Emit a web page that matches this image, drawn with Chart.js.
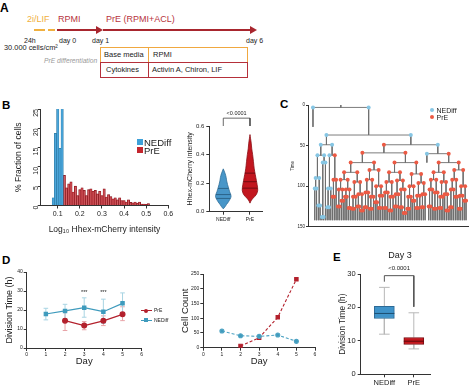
<!DOCTYPE html>
<html>
<head>
<meta charset="utf-8">
<script src="https://cdn.jsdelivr.net/npm/chart.js@4.4.1/dist/chart.umd.min.js"></script>
<style>
  html, body { margin: 0; padding: 0; background: #fff; }
  body { width: 474px; height: 390px; position: relative; overflow: hidden; font-family: Arial, 'Liberation Sans', sans-serif; color: #222; }
  .abs { position: absolute; white-space: nowrap; line-height: 1; }
  .letter { position: absolute; font-weight: bold; font-size: 11.5px; line-height: 1; color: #000; }
  .box { position: absolute; }
  .dot { position: absolute; border-radius: 50%; }
</style>
</head>
<body>

<!-- Panel A: protocol sketch -->
<div class="letter" style="left:0px;top:1.8px;font-size:12px">A</div>
<div class="abs" style="left:27px;top:15px;font-size:9px;color:#f0b040">2i/LIF</div>
<div class="abs" style="left:58px;top:15px;font-size:9px;color:#b7343d">RPMI</div>
<div class="abs" style="left:106px;top:15px;font-size:9px;color:#b7343d">PrE (RPMI+ACL)</div>
<div class="abs" style="left:34px;top:28.8px;width:11px;height:2.2px;background:#f0b040"></div>
<div class="abs" style="left:48px;top:28.8px;width:7px;height:2.2px;background:#f0b040"></div>
<div class="abs" style="left:57px;top:28.6px;width:40px;height:2.4px;background:#a8262e"></div>
<div class="abs" style="left:96px;top:25.8px;width:0;height:0;border-top:4px solid transparent;border-bottom:4px solid transparent;border-left:7px solid #a8262e"></div>
<div class="abs" style="left:103px;top:28.6px;width:148px;height:2.4px;background:#a8262e"></div>
<div class="abs" style="left:250px;top:25.8px;width:0;height:0;border-top:4px solid transparent;border-bottom:4px solid transparent;border-left:7px solid #a8262e"></div>
<div class="abs" style="left:24px;top:36.8px;font-size:7px">24h</div>
<div class="abs" style="left:59px;top:36.8px;font-size:7px">day 0</div>
<div class="abs" style="left:92px;top:36.8px;font-size:7px">day 1</div>
<div class="abs" style="left:246px;top:36.8px;font-size:7px">day 6</div>
<div class="abs" style="left:4px;top:43.5px;font-size:7.4px">30.000 cells/cm²</div>
<div class="abs" style="left:44px;top:57.5px;font-size:6.7px;font-style:italic;color:#9a9a9a">PrE differentiation</div>
<div class="box" style="left:100px;top:47px;width:146px;height:14px;border:1px solid #f0a840"></div>
<div class="box" style="left:148px;top:47px;width:1px;height:15px;background:#f0a840"></div>
<div class="box" style="left:100px;top:62px;width:146px;height:14px;border:1px solid #b5303a"></div>
<div class="box" style="left:148px;top:62px;width:1px;height:15px;background:#b5303a"></div>
<div class="abs" style="left:104px;top:50.5px;font-size:7.5px">Base media</div>
<div class="abs" style="left:153px;top:50.5px;font-size:7.5px">RPMI</div>
<div class="abs" style="left:106px;top:66px;font-size:7.5px">Cytokines</div>
<div class="abs" style="left:152px;top:66px;font-size:7.5px">Activin A, Chiron, LIF</div>

<!-- Panel letters -->
<div class="letter" style="left:2px;top:100.2px">B</div>
<div class="letter" style="left:280px;top:98.5px">C</div>
<div class="letter" style="left:2px;top:255.3px">D</div>
<div class="letter" style="left:333px;top:251.8px">E</div>

<!-- Chart canvases -->
<div class="box" style="left:0px;top:95px;width:178px;height:145px"><canvas id="histChart"></canvas></div>
<div class="box" style="left:180px;top:95px;width:92px;height:135px"><canvas id="violinChart"></canvas></div>
<div class="box" style="left:280px;top:95px;width:194px;height:140px"><canvas id="lineageChart"></canvas></div>
<div class="box" style="left:0px;top:262px;width:150px;height:112px"><canvas id="divisionChart"></canvas></div>
<div class="box" style="left:175px;top:262px;width:150px;height:112px"><canvas id="countChart"></canvas></div>
<div class="box" style="left:330px;top:245px;width:144px;height:145px"><canvas id="boxChart"></canvas></div>

<!-- Legends and titles -->
<div class="box" style="left:136.5px;top:139.3px;width:6px;height:6px;background:#3ea0d8"></div>
<div class="abs" style="left:144px;top:137.7px;font-size:9.5px">NEDiff</div>
<div class="box" style="left:136.5px;top:147.3px;width:6px;height:6px;background:#c4262e"></div>
<div class="abs" style="left:144px;top:145.7px;font-size:9.5px">PrE</div>

<div class="dot" style="left:429.5px;top:107.8px;width:4.4px;height:4.4px;background:#86c6e4"></div>
<div class="abs" style="left:436.5px;top:106.6px;font-size:7px">NEDiff</div>
<div class="dot" style="left:429.5px;top:115.1px;width:4.4px;height:4.4px;background:#ec5a44"></div>
<div class="abs" style="left:436.5px;top:113.9px;font-size:7px">PrE</div>

<div class="box" style="left:140.7px;top:310.2px;width:11px;height:1.1px;background:#b3202c"></div>
<div class="dot" style="left:143.8px;top:308.5px;width:4.5px;height:4.5px;background:#b3202c"></div>
<div class="abs" style="left:154px;top:308.3px;font-size:5px">PrE</div>
<div class="box" style="left:140.7px;top:319.8px;width:11px;height:1.1px;background:#3f9bbd"></div>
<div class="box" style="left:144px;top:318.2px;width:4px;height:4px;background:#3f9bbd"></div>
<div class="abs" style="left:154px;top:317.9px;font-size:5px">NEDiff</div>

<div class="abs" style="left:370px;top:251.1px;width:60px;text-align:center;font-size:9px">Day 3</div>

<script>
// ---------- data ----------

// B: histogram of log10 Hhex-mCherry intensity (bin centres, % of cells)
const histBinsNE = [0.08, 0.09, 0.10, 0.11, 0.12];
const histFracNE = [2.0, 18.7, 27.0, 14.8, 27.0];
const histBinsPrE = [0.13, 0.14, 0.15, 0.16, 0.17, 0.18, 0.19, 0.20, 0.21, 0.22,
  0.23, 0.24, 0.25, 0.26, 0.27, 0.28, 0.29, 0.30, 0.31, 0.32,
  0.33, 0.34, 0.35, 0.36, 0.37, 0.38, 0.39, 0.40, 0.41, 0.42,
  0.43, 0.44, 0.45, 0.46, 0.47, 0.48, 0.49, 0.50, 0.51];
const histFracPrE = [7.8, 4.6, 5.6, 6.1, 3.5, 5.0, 2.6, 4.1, 4.6, 3.9,
  2.6, 4.1, 4.3, 3.7, 3.9, 3.0, 3.7, 2.6, 4.3, 2.2,
  2.8, 2.3, 1.7, 2.0, 1.5, 2.0, 1.3, 1.3, 0.9, 1.5,
  0.8, 0.7, 0.9, 0.6, 0.9, 0.4, 0.4, 0.3, 0.5];
const histTicks = [0.1, 0.2, 0.3, 0.4, 0.5, 0.6];

// B: violin profiles (intensity levels and relative density)
const violinGroups = ['NEDiff', 'PrE'];
const violinLevelsNE = [0.02, 0.035, 0.05, 0.07, 0.09, 0.105, 0.12, 0.14, 0.165, 0.19, 0.215, 0.24, 0.265, 0.285, 0.30];
const violinDensNE = [0, 0.23, 0.41, 0.68, 0.89, 1, 0.96, 0.82, 0.68, 0.55, 0.44, 0.37, 0.25, 0.11, 0];
const violinLevelsPrE = [0.06, 0.075, 0.093, 0.12, 0.15, 0.19, 0.22, 0.26, 0.30, 0.35, 0.40, 0.44, 0.48, 0.51, 0.54];
const violinDensPrE = [0, 0.12, 0.37, 0.82, 1, 0.92, 0.82, 0.68, 0.55, 0.45, 0.34, 0.23, 0.16, 0.08, 0];
const violinQuartNE = [0.093, 0.12, 0.163];
const violinQuartPrE = [0.165, 0.21, 0.27];
const violinBracket = [0.6, 0.655, 0.6];
const violinPValue = '<0.0001';

// C: lineage tree. [end time, ...daughters, kind]; a bare number is a cell followed until that time.
const lineageTree = [3,
  27,
  [37,
    [49,
      [62,
        [90, [103, 142, 142], [124, 142, 142]],
        [71, [138, 142, 142], 142]
      ],
      [62,
        [103, [126, 142, 142], 142],
        [92, [113, 142, 142], 142, 'P']
      ]
    ],
    [49,
      [59,
        [71,
          [83,
            [92, [104, [125, 142, 142], [118, 142, 142]], [104, [113, 142, 142], [127, 142, 142]]],
            [95, [113, [128, 142, 142], 142], [110, [125, 142, 142], [130, 142, 142]]]
          ],
          [80,
            [92, [108, [126, 142, 142], 142], [113, [128, 142, 142], 142]],
            [100, [120, 142, 142], [112, [127, 142, 142], 142]]
          ]
        ],
        [71,
          [83,
            [95, [108, [127, 142, 142], 142], [113, [130, 142, 142], 142]],
            [93, [110, [125, 142, 142], 142], [104, [126, 142, 142], [133, 142, 142]]]
          ],
          [85,
            [100, [113, [128, 142, 142], 142], [118, 142, 142]],
            [96, [112, [127, 142, 142], 142], [110, [126, 142, 142], 142]]
          ]
        ],
        'P'
      ],
      [60,
        71,
        [71,
          [83, [92, [104, [125, 142, 142], 142], [108, [128, 142, 142], 142]], [95, [113, [127, 142, 142], 142], [110, 142, [130, 142, 142]]]],
          [80, [92, [104, [126, 142, 142], 142], [113, 142, 142]], [100, [112, [128, 142, 142], 142], [118, 142, 142]]],
          'P'
        ]
      ]
    ]
  ],
  'N'
];

// D: division time per day (mean and error range, h)
const daysNE = [1, 2, 3, 4, 5];
const divMeanNE = [17.9, 19.5, 21.2, 19.1, 23.5];
const divLowNE = [14.8, 15.3, 16.2, 13.0, 18.3];
const divHighNE = [20.9, 23.0, 26.4, 25.7, 29.0];
const daysPrE = [2, 3, 4, 5];
const divMeanPrE = [14.4, 11.8, 14.3, 17.7];
const divLowPrE = [9.2, 9.6, 11.8, 14.4];
const divHighPrE = [19.1, 13.9, 16.9, 21.7];
const starDays = [3, 4];
const starLevel = 29.3;

// D: cell counts per day
const countNE = [56.6, 40.7, 38.5, 43.0, 21.5];
const countPrE = [5.7, 34.0, 103.0, 232.0];

// E: day 3 division time box plot
const boxGroups = ['NEDiff', 'PrE'];
const boxMin = [12.0, 7.6];
const boxQ1 = [16.7, 8.9];
const boxMedian = [18.2, 9.9];
const boxQ3 = [20.3, 11.0];
const boxMax = [26.0, 18.4];
const boxBracket = [27.7, 29.5, 20.2];
const boxPValue = '<0.0001';

// ---------- setup ----------

Chart.defaults.font.family = "Arial, 'Liberation Sans', sans-serif";
Chart.defaults.color = '#222';
Chart.defaults.animation = false;
Chart.defaults.responsive = true;
Chart.defaults.maintainAspectRatio = false;
Chart.defaults.plugins.legend.display = false;
Chart.defaults.plugins.tooltip.enabled = false;

// text placed at data coordinates (p-values, stars)
const textMarks = {
  id: 'textMarks',
  afterDatasetsDraw(chart, args, opts) {
    if (!opts.items) return;
    const { ctx, scales } = chart;
    ctx.save();
    ctx.font = opts.size + "px Arial, 'Liberation Sans', sans-serif";
    ctx.fillStyle = opts.color || '#222';
    ctx.textAlign = 'center';
    ctx.textBaseline = 'middle';
    opts.items.forEach(it => {
      ctx.fillText(it.text, scales.x.getPixelForValue(it.x), scales.y.getPixelForValue(it.y));
    });
    ctx.restore();
  },
};
Chart.register(textMarks);

function makeAxis(o) {
  const axis = {
    type: 'linear',
    min: o.min,
    max: o.max,
    reverse: !!o.reverse,
    offset: false,
    grid: { drawOnChartArea: false, offset: false, tickLength: o.tick ?? 3, color: '#333', drawTicks: o.showTicks !== false },
    border: { color: '#333', width: 1 },
    ticks: {
      font: { size: o.size },
      color: '#222',
      padding: o.pad ?? 1,
      minRotation: o.rot || 0,
      maxRotation: o.rot || 0,
      display: o.showTicks !== false,
    },
    title: {
      display: !!o.title,
      text: o.title || '',
      font: { size: o.titleSize },
      color: '#222',
      padding: { top: o.titlePad || 0, bottom: o.titlePad || 0 },
    },
    afterFit: s => {
      if (o.width) s.width = o.width;
      if (o.height) s.height = o.height;
    },
  };
  if (o.step) axis.ticks.stepSize = o.step;
  if (o.label) axis.ticks.callback = o.label;
  if (o.ticksAt) axis.afterBuildTicks = s => { s.ticks = o.ticksAt.map(v => ({ value: v })); };
  return axis;
}

const xy = (xs, ys) => xs.map((x, i) => ({ x, y: ys[i] }));
const GAP = { x: null, y: null };

function errorSegments(xs, lo, hi, cap) {
  const pts = [];
  xs.forEach((d, i) => {
    pts.push({ x: d, y: lo[i] }, { x: d, y: hi[i] }, GAP,
      { x: d - cap, y: hi[i] }, { x: d + cap, y: hi[i] }, GAP,
      { x: d - cap, y: lo[i] }, { x: d + cap, y: lo[i] }, GAP);
  });
  return pts;
}

window.addEventListener('DOMContentLoaded', function () {
  plotHistogram();
  plotViolins();
  plotLineage();
  plotDivisionTime();
  plotCellCount();
  plotBoxes();
});

/**
 * B: overlapping histograms
 */
function plotHistogram() {
  const barStyle = { grouped: false, barThickness: 2.3, borderWidth: 0.4 };
  new Chart(document.getElementById('histChart'), {
    type: 'bar',
    data: {
      datasets: [
        Object.assign({ label: 'NEDiff', data: xy(histBinsNE, histFracNE), backgroundColor: 'rgba(62,160,216,0.9)', borderColor: '#2b6f92' }, barStyle),
        Object.assign({ label: 'PrE', data: xy(histBinsPrE, histFracPrE), backgroundColor: 'rgba(200,50,58,0.75)', borderColor: '#7a1a20' }, barStyle),
      ],
    },
    options: {
      layout: { padding: { top: 14, right: 9.7, left: 0, bottom: 0 } },
      scales: {
        x: makeAxis({ min: 0.023, max: 0.6, size: 7, ticksAt: histTicks, label: v => v.toFixed(1),
          title: 'Log₁₀ Hhex-mCherry intensity', titleSize: 8.5, titlePad: 5, height: 34.5 }),
        y: makeAxis({ min: 0, max: 25, step: 5, size: 7, rot: 90, pad: 2,
          title: '% Fraction of cells', titleSize: 8.5, titlePad: 14, width: 40.7 }),
      },
    },
  });
}

/**
 * B: violin plots
 */
function plotViolins() {
  const halfWidth = 0.29;
  const shape = (c, levels, dens) => {
    const right = levels.map((v, i) => ({ x: c + dens[i] * halfWidth, y: v }));
    const left = levels.map((v, i) => ({ x: c - dens[i] * halfWidth, y: v })).reverse();
    return right.concat(left, [right[0]]);
  };
  const widthAt = (levels, dens, v) => {
    for (let i = 1; i < levels.length; i++) {
      if (v <= levels[i]) {
        const t = (v - levels[i - 1]) / (levels[i] - levels[i - 1]);
        return dens[i - 1] + t * (dens[i] - dens[i - 1]);
      }
    }
    return 0;
  };
  const quartLines = (c, levels, dens, quarts) => {
    const pts = [];
    quarts.forEach(q => {
      const w = widthAt(levels, dens, q) * halfWidth;
      pts.push({ x: c - w, y: q }, { x: c + w, y: q }, GAP);
    });
    return pts;
  };
  const lineSet = (data, color, width, dash) => ({
    data, showLine: true, pointRadius: 0, borderColor: color, borderWidth: width, borderDash: dash || [], spanGaps: false,
  });

  new Chart(document.getElementById('violinChart'), {
    type: 'scatter',
    data: {
      datasets: [
        lineSet(quartLines(1, violinLevelsNE, violinDensNE, violinQuartNE), '#1f4f70', 0.7),
        lineSet(quartLines(2, violinLevelsPrE, violinDensPrE, violinQuartPrE), '#4e080c', 0.7),
        Object.assign(lineSet(shape(1, violinLevelsNE, violinDensNE), '#2e6f99', 0.8), { fill: 'shape', backgroundColor: '#4896c8', tension: 0.3, order: 2 }),
        Object.assign(lineSet(shape(2, violinLevelsPrE, violinDensPrE), '#8a0f15', 0.8), { fill: 'shape', backgroundColor: '#c2161f', tension: 0.3, order: 2 }),
        Object.assign(lineSet([
          { x: 1, y: violinBracket[0] }, { x: 1, y: violinBracket[1] },
          { x: 2, y: violinBracket[1] }, { x: 2, y: violinBracket[2] },
        ], '#444', 0.8), { clip: false }),
      ],
    },
    options: {
      layout: { padding: { top: 31, right: 10, left: 0, bottom: 0 } },
      plugins: { textMarks: { size: 5.5, items: [{ x: 1.5, y: 0.69, text: violinPValue }] } },
      scales: {
        x: makeAxis({ min: 0.476, max: 2.45, size: 5, pad: 2, ticksAt: [1, 2], label: v => violinGroups[v - 1], height: 18.3 }),
        y: makeAxis({ min: 0, max: 0.6, step: 0.2, size: 6, pad: 2, label: v => v.toFixed(1),
          title: 'Hhex-mCherry intensity', titleSize: 7, titlePad: 5.8, width: 29.3 }),
      },
    },
  });
}

/**
 * C: lineage tree laid out from the nested division times
 */
function plotLineage() {
  const segs = [], dotsNE = [], dotsPrE = [];
  let nextLeaf = 0;
  function walk(node, birth, kind, isRoot) {
    let end = node, kids = [];
    if (Array.isArray(node)) {
      end = node[0];
      const last = node[node.length - 1];
      if (typeof last === 'string') kind = last;
      kids = node.slice(1).filter(n => typeof n !== 'string');
    }
    let x;
    if (kids.length) {
      const xs = kids.map(k => walk(k, end, kind, false));
      x = (xs[0] + xs[xs.length - 1]) / 2;
      segs.push({ x: xs[0], y: end }, { x: xs[xs.length - 1], y: end }, GAP);
    } else {
      x = nextLeaf++;
    }
    segs.push({ x, y: birth }, { x, y: end }, GAP);
    if (!isRoot) (kind === 'P' ? dotsPrE : dotsNE).push({ x, y: birth });
    return x;
  }
  walk(lineageTree, 0, 'N', true);

  new Chart(document.getElementById('lineageChart'), {
    type: 'scatter',
    data: {
      datasets: [
        { label: 'tree', data: segs, showLine: true, spanGaps: false, pointRadius: 0, borderColor: '#6e6e6e', borderWidth: 0.9, order: 3 },
        { label: 'NEDiff', data: dotsNE, pointRadius: 2, borderWidth: 0, backgroundColor: '#86c6e4', order: 1 },
        { label: 'PrE', data: dotsPrE, pointRadius: 2, borderWidth: 0, backgroundColor: '#ec5a44', order: 2 },
      ],
    },
    options: {
      layout: { padding: { top: 10, right: 6, left: 0, bottom: 0 } },
      scales: {
        x: makeAxis({ min: -2.8, max: nextLeaf + 0.1, showTicks: false, height: 8.3 }),
        y: makeAxis({ min: 0, max: 150, step: 50, reverse: true, size: 4.5, tick: 2, pad: 1,
          title: 'Time', titleSize: 4.5, titlePad: 9.8, width: 28 }),
      },
    },
  });
}

/**
 * D: division time per day with error bars
 */
function plotDivisionTime() {
  new Chart(document.getElementById('divisionChart'), {
    type: 'scatter',
    data: {
      datasets: [
        { label: 'NEDiff err', data: errorSegments(daysNE, divLowNE, divHighNE, 0.12), showLine: true, spanGaps: false, pointRadius: 0, borderColor: '#a8d4e3', borderWidth: 1, order: 3 },
        { label: 'PrE err', data: errorSegments(daysPrE, divLowPrE, divHighPrE, 0.12), showLine: true, spanGaps: false, pointRadius: 0, borderColor: '#e8a4a8', borderWidth: 1, order: 3 },
        { label: 'NEDiff', data: xy(daysNE, divMeanNE), showLine: true, borderColor: '#3f9bbd', backgroundColor: '#3f9bbd', borderWidth: 1.2, pointStyle: 'rect', pointRadius: 2.3, order: 1 },
        { label: 'PrE', data: xy(daysPrE, divMeanPrE), showLine: true, borderColor: '#b3202c', backgroundColor: '#b3202c', borderWidth: 1.2, pointRadius: 2.4, order: 2 },
      ],
    },
    options: {
      layout: { padding: { top: 10, right: 8.3, left: 0, bottom: 0 } },
      plugins: { textMarks: { size: 5.5, items: starDays.map(d => ({ x: d, y: starLevel, text: '***' })) } },
      scales: {
        x: makeAxis({ min: 0, max: 6, step: 1, size: 5, pad: 1, title: 'Day', titleSize: 9.5, titlePad: 7, height: 26 }),
        y: makeAxis({ min: 0, max: 40, step: 10, size: 5, pad: 1, title: 'Division Time (h)', titleSize: 9, titlePad: 4.6, width: 26.7 }),
      },
    },
  });
}

/**
 * D: cell counts per day
 */
function plotCellCount() {
  new Chart(document.getElementById('countChart'), {
    type: 'scatter',
    data: {
      datasets: [
        { label: 'NEDiff', data: xy(daysNE, countNE), showLine: true, borderDash: [3, 2], borderColor: '#4ea3c3', backgroundColor: '#3f9bbd', borderWidth: 1.1, pointRadius: 2 },
        { label: 'PrE', data: xy(daysPrE, countPrE), showLine: true, borderDash: [3, 2], borderColor: '#b3202c', backgroundColor: '#b3202c', borderWidth: 1.1, pointStyle: 'rect', pointRadius: 2.4 },
      ],
    },
    options: {
      layout: { padding: { top: 12, right: 10, left: 0, bottom: 0 } },
      scales: {
        x: makeAxis({ min: 0, max: 6, step: 1, size: 5, pad: 1, title: 'Day', titleSize: 9.5, titlePad: 7, height: 26.3 }),
        y: makeAxis({ min: 0, max: 250, step: 50, size: 5, pad: 1, title: 'Cell Count', titleSize: 9.5, titlePad: 4.3, width: 28.3 }),
      },
    },
  });
}

/**
 * E: box plot of day 3 division time
 */
function plotBoxes() {
  const cap = 0.18, half = 0.34;
  const whiskers = [], medians = [];
  [1, 2].forEach((c, i) => {
    whiskers.push({ x: c, y: boxQ3[i] }, { x: c, y: boxMax[i] }, GAP,
      { x: c - cap, y: boxMax[i] }, { x: c + cap, y: boxMax[i] }, GAP,
      { x: c, y: boxQ1[i] }, { x: c, y: boxMin[i] }, GAP,
      { x: c - cap, y: boxMin[i] }, { x: c + cap, y: boxMin[i] }, GAP);
    medians.push({ x: c - half, y: boxMedian[i] }, { x: c + half, y: boxMedian[i] }, GAP);
  });

  new Chart(document.getElementById('boxChart'), {
    type: 'bar',
    data: {
      datasets: [
        { type: 'line', label: 'whiskers', data: whiskers, spanGaps: false, pointRadius: 0, borderColor: '#b8b8b8', borderWidth: 1, order: 3 },
        {
          label: 'box', data: [1, 2].map((c, i) => ({ x: c, y: [boxQ1[i], boxQ3[i]] })),
          backgroundColor: ['#3f93c9', '#c4161c'], borderColor: ['#2c6a96', '#7a0d12'], borderWidth: 1,
          borderSkipped: false, barThickness: 20, grouped: false, order: 2,
        },
        { type: 'line', label: 'median', data: medians, spanGaps: false, pointRadius: 0, borderColor: '#1d4e70', segment: { borderColor: c => (c.p0.parsed.x < 1.5 ? '#1d4e70' : '#5c0a0d') }, borderWidth: 1, order: 1 },
        {
          type: 'line', label: 'bracket', pointRadius: 0, borderColor: '#555', borderWidth: 1, order: 1,
          data: [{ x: 1, y: boxBracket[0] }, { x: 1, y: boxBracket[1] }, { x: 2, y: boxBracket[1] }, { x: 2, y: boxBracket[2] }],
        },
      ],
    },
    options: {
      layout: { padding: { top: 29, right: 44, left: 0, bottom: 0 } },
      plugins: { textMarks: { size: 6, items: [{ x: 1.5, y: 31.7, text: boxPValue }] } },
      scales: {
        x: makeAxis({ min: 0.197, max: 2.55, size: 7.5, tick: 3, pad: 1, ticksAt: [1, 2], label: v => boxGroups[v - 1], height: 15.7 }),
        y: makeAxis({ min: 0, max: 30, step: 10, size: 7.5, tick: 3, pad: 2, title: 'Division Time (h)', titleSize: 8.2, titlePad: 7.6, width: 30.7 }),
      },
    },
  });
}
</script>
</body>
</html>
